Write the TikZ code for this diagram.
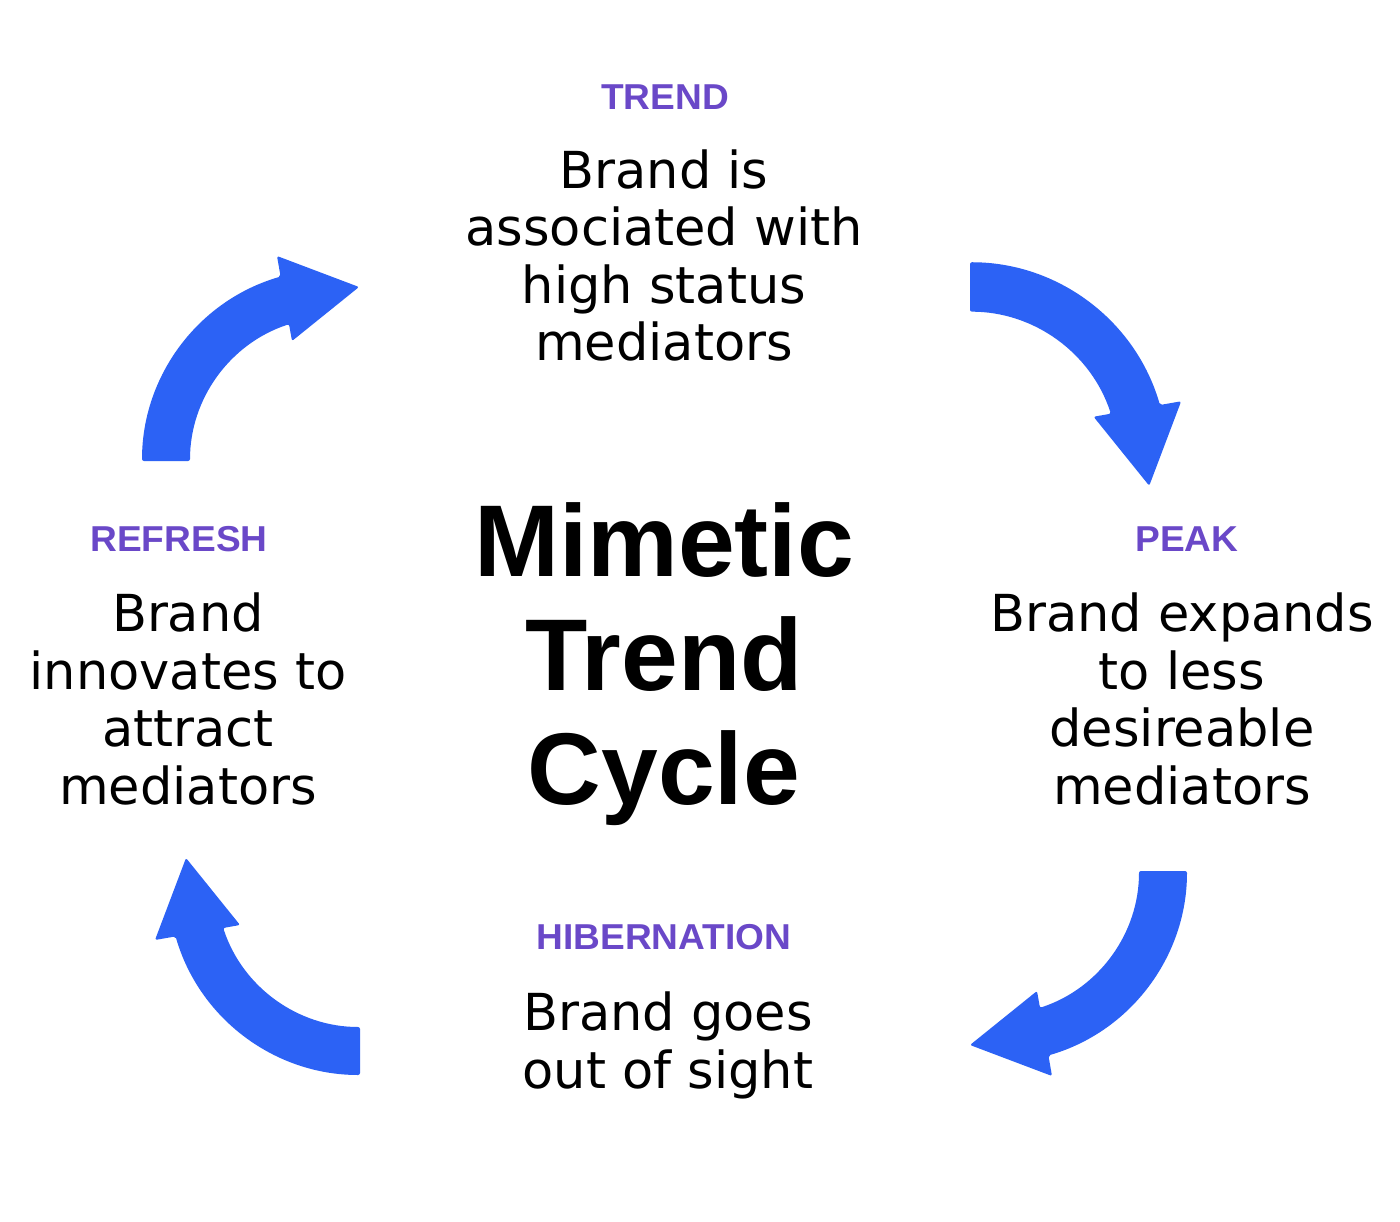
\documentclass[tikz,border=0pt]{standalone}
\usepackage{fontspec}
\setmainfont{DejaVu Sans}
\newfontfamily\titlefont{Liberation Sans}
\newfontfamily\labelfont{Liberation Sans}[FakeStretch=1.03]
\definecolor{arrowblue}{RGB}{44,98,245}
\definecolor{labelpurple}{RGB}{106,72,200}
\newcommand\cyclearrow[4]{%
  \fill[cyc, shift={(#1,#2)}, rotate=#3, scale=#4]
    (180:192) arc[start angle=180, end angle=106.15, radius=192]
    -- (-57,205) -- (25,174) -- (-42,120)
    -- (108.2:144) arc[start angle=108.2, end angle=180, radius=144] -- cycle;}
\begin{document}
\begin{tikzpicture}[x=1pt, y=1pt,
  body/.style={font=\fontsize{51}{57.5}\selectfont, align=center, inner sep=0pt, anchor=base},
  stage/.style={font=\labelfont\bfseries\fontsize{36}{40}\selectfont, text=labelpurple, inner sep=0pt, anchor=base},
  title/.style={font=\titlefont\bfseries\fontsize{102}{114}\selectfont, align=center, inner sep=0pt, anchor=base},
  cyc/.style={fill=arrowblue, rounded corners=2pt}]
\fill[white] (0,0) rectangle (1400,-1222);
\useasboundingbox (0,0) rectangle (1400,-1222);

% arrows
\cyclearrow{334}{-461}{0}{1}
\cyclearrow{970}{-460}{-90}{1.03}
\cyclearrow{995}{-871}{180}{1}
\cyclearrow{360}{-883}{90}{1}

% stage labels
\node[stage] (trendlbl) at (665,-110) {TREND};
\node[stage] (peaklbl) at (1187,-551) {PEAK};
\node[stage] (hiblbl) at (664,-949) {HIBERNATION};
\node[stage] (reflbl) at (179,-551) {REFRESH};

% texts (anchor base = baseline of the last line)
\node[body] (trendtxt) at (664,-361) {Brand is\\associated with\\high status\\mediators};
\node[body] (peaktxt) at (1182,-804) {Brand expands\\to less\\desireable\\mediators};
\node[body] (hibtxt) at (668,-1088) {Brand goes\\out of sight};
\node[body] (reftxt) at (188,-804) {Brand\\innovates to\\attract\\mediators};

\node[title] (title) at (664,-804) {Mimetic\\Trend\\Cycle};
\end{tikzpicture}
\end{document}
